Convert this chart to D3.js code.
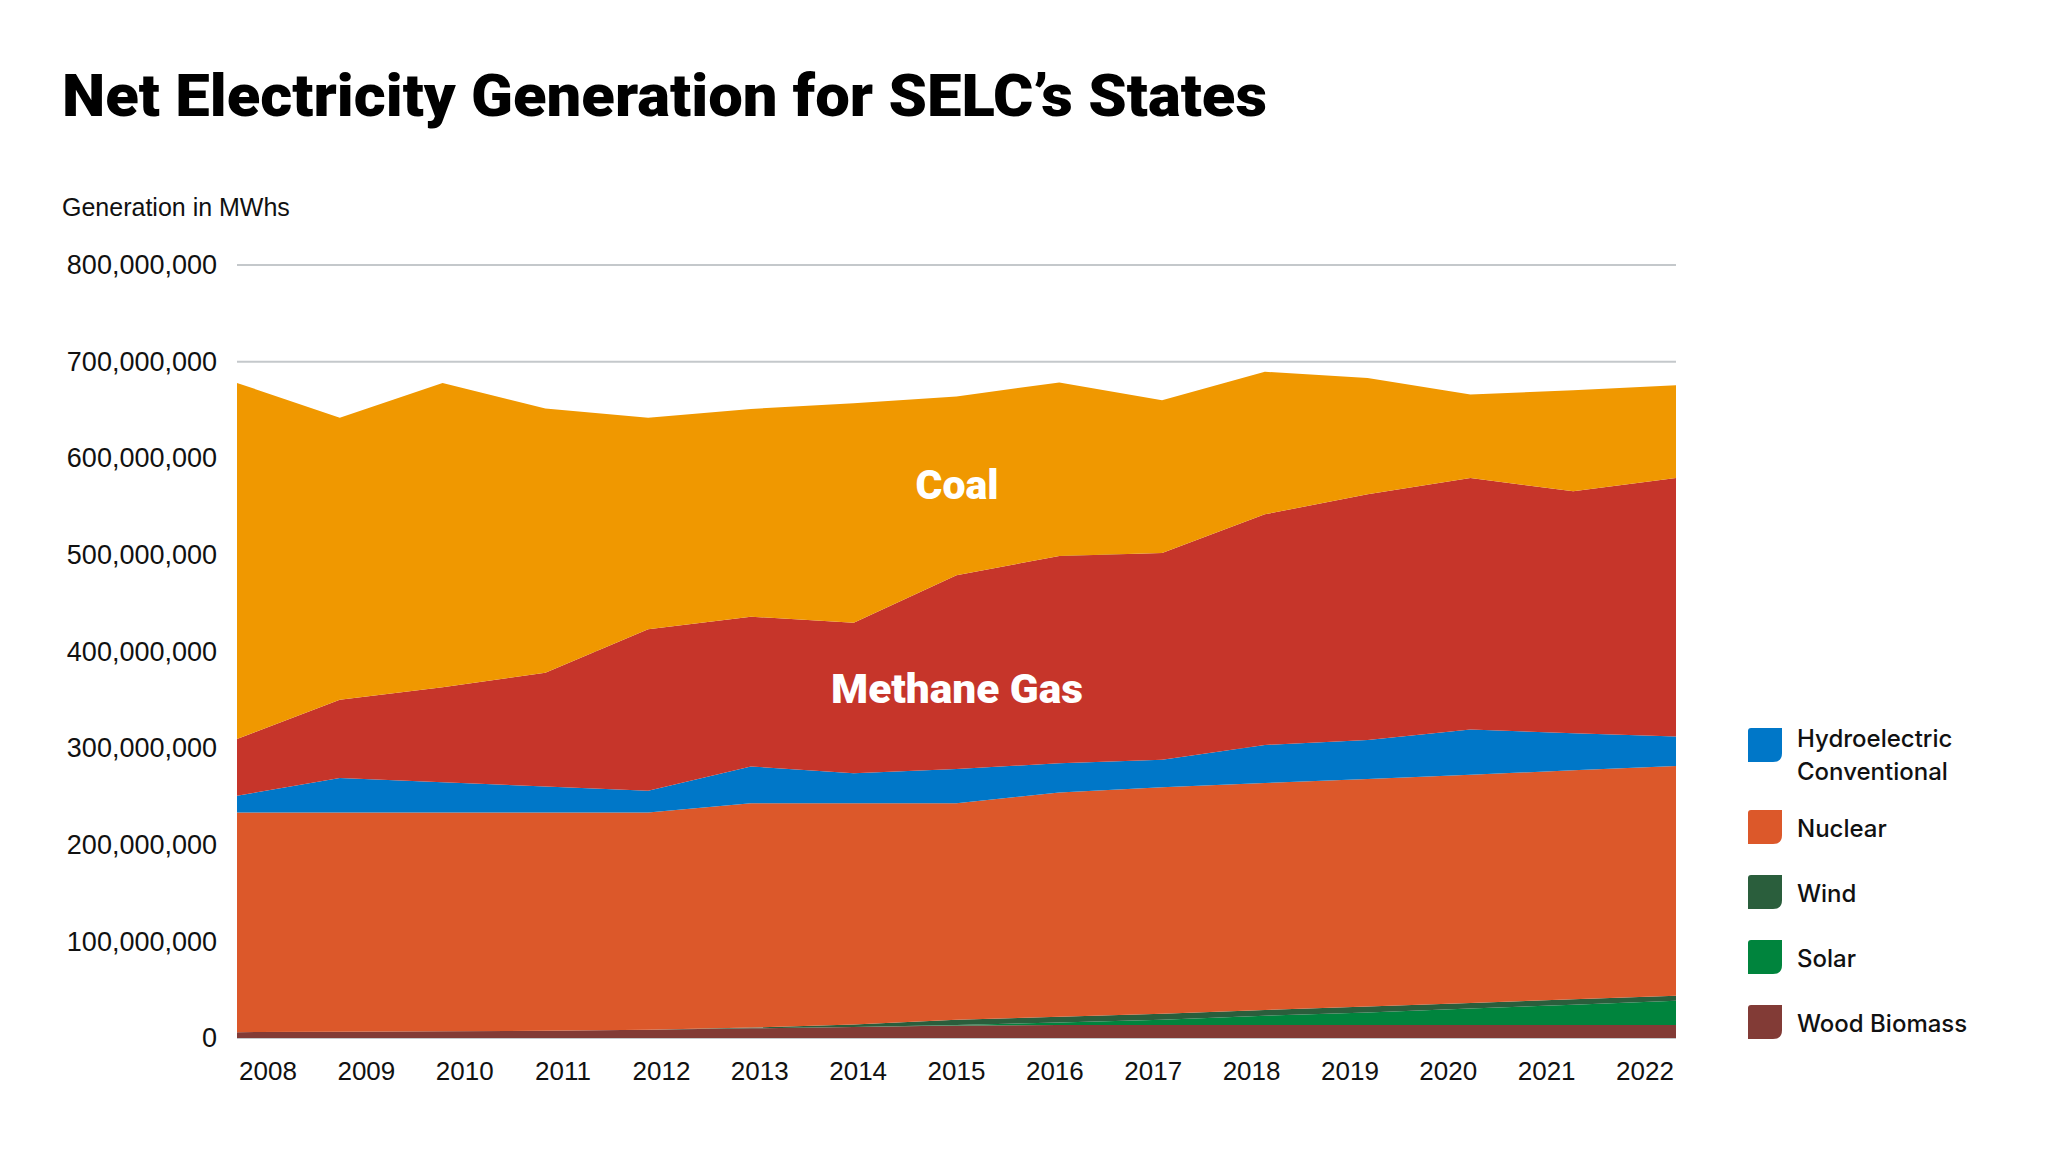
<!DOCTYPE html>
<html>
<head>
<meta charset="utf-8">
<script src="https://cdn.jsdelivr.net/npm/d3@7"></script>
<style>
  html, body { margin: 0; padding: 0; background: #fff; }
  svg { display: block; }
</style>
</head>
<body>
<svg id="chart" width="2048" height="1149"></svg>
<script>
// values, in millions of MWh
const years = [2008, 2009, 2010, 2011, 2012, 2013, 2014, 2015, 2016, 2017, 2018, 2019, 2020, 2021, 2022];
const woodBiomass = [6, 6.5, 7, 7.5, 8.5, 10, 11.5, 13, 13.5, 13.5, 13.5, 13.5, 13.5, 13.5, 13.5];
const solar = [0, 0, 0, 0, 0, 0, 0, 0.4, 2.5, 5.5, 9.5, 13, 17, 21, 25];
const wind = [0, 0, 0, 0, 0, 0.8, 2.5, 5.5, 6, 6, 6, 6, 5.8, 5.5, 5.2];
const nuclear = [227.5, 227, 226.5, 226, 225, 232.2, 229, 224.1, 232, 234.5, 235, 235.5, 236.2, 237, 237.8];
const hydro = [17.3, 35.5, 31.1, 26.9, 22.5, 38, 31, 35.4, 30.3, 28.5, 39.3, 40.5, 46.7, 38.4, 30.5];
const methaneGas = [58.7, 81, 98.4, 117.6, 167, 155, 155.7, 200.6, 214.5, 214, 238.7, 254.2, 260.4, 250.4, 267.6];
const coal = [368.5, 292, 315, 273.5, 219, 215, 227.3, 185, 179.7, 158, 147.5, 120.3, 86.4, 104.7, 96];

const yTicks = [0, 100e6, 200e6, 300e6, 400e6, 500e6, 600e6, 700e6, 800e6];

const seriesKeys = ["wood", "solar", "wind", "nuclear", "hydro", "gas", "coal"];
const seriesColors = {
    wood: "#823b36", solar: "#00843d", wind: "#2a5e3c", nuclear: "#dc582a",
    hydro: "#0077c8", gas: "#c6352a", coal: "#f09800"
};
const legendItems = [
    { key: "hydro", lines: ["Hydroelectric", "Conventional"] },
    { key: "nuclear", lines: ["Nuclear"] },
    { key: "wind", lines: ["Wind"] },
    { key: "solar", lines: ["Solar"] },
    { key: "wood", lines: ["Wood Biomass"] }
];

// build rows for the stack
const rows = years.map((yr, i) => ({
    year: yr,
    wood: woodBiomass[i] * 1e6,
    solar: solar[i] * 1e6,
    wind: wind[i] * 1e6,
    nuclear: nuclear[i] * 1e6,
    hydro: hydro[i] * 1e6,
    gas: methaneGas[i] * 1e6,
    coal: coal[i] * 1e6
}));

const x0 = 237, x1 = 1676, yBottom = 1038, yTop = 265;

const svg = d3.select("#chart");

const x = d3.scaleLinear().domain([2008, 2022]).range([x0, x1]);
const y = d3.scaleLinear().domain([0, 800e6]).range([yBottom, yTop]);
const xLab = d3.scalePoint().domain(years).range([x0 + 31, x1 - 31]);

// title + subtitle
svg.append("text")
    .attr("x", 62).attr("y", 116)
    .attr("font-family", "Roboto, 'Liberation Sans', sans-serif")
    .attr("font-weight", 900)
    .attr("font-size", 60)
    .attr("textLength", 1205)
    .attr("lengthAdjust", "spacingAndGlyphs")
    .attr("fill", "#000")
    .text("Net Electricity Generation for SELC\u2019s States");

svg.append("text")
    .attr("x", 62).attr("y", 216)
    .attr("font-family", "'Liberation Sans', Arial, sans-serif")
    .attr("font-size", 25)
    .attr("fill", "#111")
    .text("Generation in MWhs");

// gridlines (sit under the areas)
svg.append("g")
    .selectAll("line")
    .data(yTicks)
    .join("line")
    .attr("x1", x0).attr("x2", x1)
    .attr("y1", d => y(d)).attr("y2", d => y(d))
    .attr("stroke", "#c4c8cb")
    .attr("stroke-width", 2);

// stacked areas
const stacked = d3.stack().keys(seriesKeys)(rows);
const area = d3.area()
    .x(d => x(d.data.year))
    .y0(d => y(d[0]))
    .y1(d => y(d[1]));

svg.append("g")
    .selectAll("path")
    .data(stacked)
    .join("path")
    .attr("fill", d => seriesColors[d.key])
    .attr("d", area);

// y axis labels
const yAxis = d3.axisLeft(y)
    .tickValues(yTicks)
    .tickFormat(d3.format(","))
    .tickSize(0)
    .tickPadding(20);

svg.append("g")
    .attr("transform", `translate(${x0},0)`)
    .call(yAxis)
    .call(g => g.select(".domain").remove())
    .call(g => g.selectAll("text")
        .attr("font-family", "'Liberation Sans', Arial, sans-serif")
        .attr("font-size", 27)
        .attr("fill", "#111"));

// x axis labels
svg.append("g")
    .selectAll("text")
    .data(years)
    .join("text")
    .attr("x", d => xLab(d))
    .attr("y", 1080)
    .attr("text-anchor", "middle")
    .attr("font-family", "'Liberation Sans', Arial, sans-serif")
    .attr("font-size", 26)
    .attr("fill", "#111")
    .text(d => d);

// in-chart labels
const inLabels = [
    { text: "Coal", x: 957, y: 499, w: 83 },
    { text: "Methane Gas", x: 957, y: 703, w: 252 }
];
svg.append("g")
    .selectAll("text")
    .data(inLabels)
    .join("text")
    .attr("x", d => d.x - d.w / 2)
    .attr("y", d => d.y)
    .attr("font-family", "Roboto, 'Liberation Sans', sans-serif")
    .attr("font-weight", 900)
    .attr("font-size", 41)
    .attr("textLength", d => d.w)
    .attr("lengthAdjust", "spacingAndGlyphs")
    .attr("fill", "#fff")
    .text(d => d.text);

// legend
const sw = 34;
const leafPath = (r1, r2) =>
    `M0,${r1} Q0,0 ${r1},0 L${sw},0 L${sw},${sw - r2} Q${sw},${sw} ${sw - r2},${sw} L0,${sw} Z`;

const legendTops = [728, 810, 875, 940, 1005];
const legend = svg.append("g");
legendItems.forEach((item, i) => {
    const g = legend.append("g").attr("transform", `translate(1748,${legendTops[i]})`);
    g.append("path")
        .attr("d", leafPath(3, 9))
        .attr("fill", seriesColors[item.key]);
    // two-line label starts at the top of the swatch, one-liners sit centred on it
    const firstBase = item.lines.length > 1 ? 19 : 27;
    item.lines.forEach((ln, j) => {
        g.append("text")
            .attr("x", 49)
            .attr("y", firstBase + j * 33)
            .attr("font-family", "Inter, 'Liberation Sans', sans-serif")
            .attr("font-weight", 500)
            .attr("font-size", 24)
            .attr("fill", "#111")
            .text(ln);
    });
});
</script>
</body>
</html>
